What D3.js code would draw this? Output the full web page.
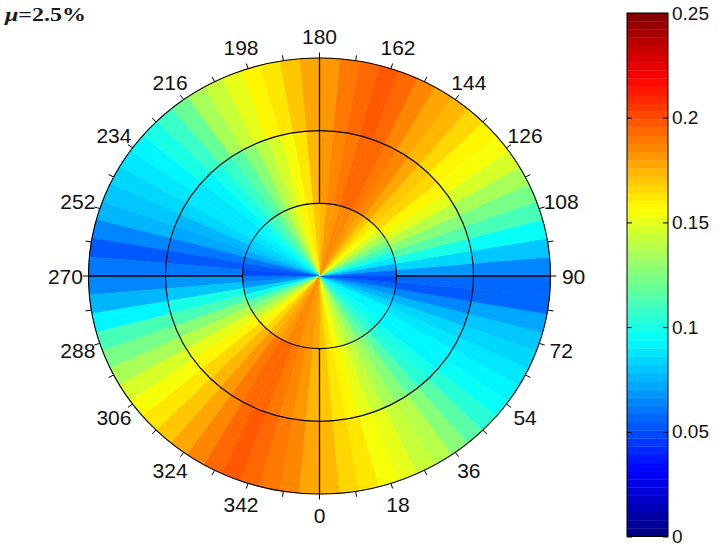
<!DOCTYPE html>
<html><head><meta charset="utf-8">
<script src="https://cdn.jsdelivr.net/npm/d3@7"></script>
<style>body{margin:0;background:#fff} svg{display:block}</style>
</head><body>
<svg id="c" width="720" height="551"></svg>
<script>
// ---------------- data ----------------
const titleSymbol = "\u03BC";
const titleRest = "=2.5%";
const binWidth = 5; // degrees per angular cell
const angleStarts = [0,5,10,15,20,25,30,35,40,45,50,55,60,65,70,75,80,85,90,95,
  100,105,110,115,120,125,130,135,140,145,150,155,160,165,170,175,180,185,190,195,
  200,205,210,215,220,225,230,235,240,245,250,255,260,265,270,275,280,285,290,295,
  300,305,310,315,320,325,330,335,340,345,350,355];
const ringEdges = [0, 1/3, 2/3, 1];
const innerRing = [
  0.170,0.162,0.155,0.148,0.140,0.130,0.120,0.112,0.105,0.098,
  0.095,0.092,0.090,0.085,0.078,0.068,0.055,0.050,0.058,0.072,
  0.088,0.100,0.112,0.124,0.135,0.148,0.156,0.162,0.170,0.176,
  0.182,0.185,0.185,0.183,0.180,0.175,0.170,0.163,0.157,0.150,
  0.142,0.130,0.120,0.110,0.102,0.096,0.092,0.088,0.085,0.080,
  0.072,0.062,0.052,0.050,0.060,0.070,0.085,0.100,0.115,0.128,
  0.140,0.150,0.158,0.165,0.172,0.178,0.182,0.185,0.185,0.182,
  0.180,0.176];
const middleRing = [
  0.168,0.163,0.157,0.151,0.143,0.135,0.126,0.115,0.105,0.098,
  0.093,0.090,0.087,0.083,0.077,0.066,0.054,0.058,0.068,0.083,
  0.100,0.115,0.128,0.140,0.150,0.158,0.165,0.171,0.177,0.184,
  0.190,0.195,0.195,0.191,0.186,0.180,0.172,0.163,0.155,0.147,
  0.138,0.127,0.117,0.106,0.098,0.093,0.089,0.086,0.083,0.078,
  0.072,0.062,0.052,0.059,0.068,0.082,0.098,0.113,0.127,0.140,
  0.151,0.160,0.167,0.174,0.182,0.189,0.194,0.194,0.190,0.186,
  0.181,0.174];
const outerRing = [
  0.172,0.167,0.161,0.156,0.150,0.143,0.137,0.128,0.117,0.105,
  0.097,0.092,0.088,0.085,0.080,0.071,0.055,0.057,0.066,0.080,
  0.095,0.110,0.122,0.133,0.145,0.153,0.160,0.166,0.172,0.179,
  0.186,0.192,0.196,0.194,0.188,0.182,0.176,0.170,0.163,0.157,
  0.150,0.142,0.133,0.120,0.108,0.098,0.092,0.088,0.085,0.080,
  0.075,0.066,0.053,0.060,0.066,0.078,0.092,0.110,0.122,0.135,
  0.147,0.156,0.163,0.170,0.178,0.186,0.193,0.196,0.193,0.188,
  0.184,0.179];
const thetaTickLabels = [0,18,36,54,72,90,108,126,144,162,180,198,216,234,252,270,288,306,324,342];
const thetaTickMarks = [0,9,18,27,36,45,54,63,72,81,90,99,108,117,126,135,144,153,162,171,
  180,189,198,207,216,225,234,243,252,261,270,279,288,297,306,315,324,333,342,351];
const spokeAngles = [0,90,180,270];
const gridRings = [1/3, 2/3, 1];
const colorbarTicks = [0,0.05,0.1,0.15,0.2,0.25];
const colorDomain = [0, 0.25];

// ---------------- layout ----------------
const svg = d3.select("#c");
const CX = 319.5, CY = 276, RX = 231, RY = 218;
const sy = RY / RX;

function jet(t){
  const c = x => Math.max(0, Math.min(1, x));
  const r = c(1.5 - Math.abs(4*t - 3)), g = c(1.5 - Math.abs(4*t - 2)), b = c(1.5 - Math.abs(4*t - 1));
  return d3.rgb(r*255, g*255, b*255).formatHex();
}
const nLevels = 64;
const palette = d3.range(nLevels).map(i => jet((i + 0.5) / nLevels));
const color = d3.scaleQuantize().domain(colorDomain).range(palette);

const ang = d3.scaleLinear().domain([0, 360]).range([Math.PI, -Math.PI]);
const rad = d3.scaleLinear().domain([0, 1]).range([0, RX]);

const rings = [innerRing, middleRing, outerRing];
const cells = [];
rings.forEach((vals, ri) => {
  angleStarts.forEach((a, ai) => {
    cells.push({a0: a, a1: a + binWidth, r0: ringEdges[ri], r1: ringEdges[ri+1], v: vals[ai]});
  });
});

const arc = d3.arc()
  .innerRadius(d => rad(d.r0))
  .outerRadius(d => rad(d.r1))
  .startAngle(d => ang(d.a1))
  .endAngle(d => ang(d.a0));

const g = svg.append("g").attr("transform", `translate(${CX},${CY}) scale(1,${sy})`);
g.selectAll("path.cell").data(cells).enter().append("path")
  .attr("class", "cell")
  .attr("d", arc)
  .attr("fill", d => color(d.v))
  .attr("stroke", d => color(d.v))
  .attr("stroke-width", 0.6)
  .attr("vector-effect", "non-scaling-stroke");

// grid circles
g.selectAll("circle.grid").data(gridRings).enter().append("circle")
  .attr("r", d => rad(d)).attr("fill", "none")
  .attr("stroke", "#000").attr("stroke-width", 1.1)
  .attr("vector-effect", "non-scaling-stroke");

// spokes from inner ring to outer ring
const pt = (theta, r) => [rad(r) * Math.sin(theta * Math.PI / 180), rad(r) * Math.cos(theta * Math.PI / 180)];
g.selectAll("line.spoke").data(spokeAngles).enter().append("line")
  .attr("x1", d => pt(d, gridRings[0])[0]).attr("y1", d => pt(d, gridRings[0])[1])
  .attr("x2", d => pt(d, 1)[0]).attr("y2", d => pt(d, 1)[1])
  .attr("stroke", "#000").attr("stroke-width", 1.3)
  .attr("vector-effect", "non-scaling-stroke");

// tick marks on outer circle
g.selectAll("line.tick").data(thetaTickMarks).enter().append("line")
  .attr("x1", d => pt(d, 1)[0]).attr("y1", d => pt(d, 1)[1])
  .attr("x2", d => pt(d, 1.025)[0]).attr("y2", d => pt(d, 1.025)[1])
  .attr("stroke", "#000").attr("stroke-width", 1)
  .attr("vector-effect", "non-scaling-stroke");

// angle labels
svg.append("g").selectAll("text").data(thetaTickLabels).enter().append("text")
  .attr("x", d => CX + rad(1.1) * Math.sin(d * Math.PI / 180))
  .attr("y", d => CY + rad(1.1) * sy * Math.cos(d * Math.PI / 180))
  .attr("dy", "0.36em")
  .attr("text-anchor", "middle")
  .attr("font-family", "'Liberation Sans', Arial, sans-serif")
  .attr("font-size", 21)
  .attr("fill", "#111")
  .text(d => d);

// title
const t = svg.append("text").attr("x", 5).attr("y", 21)
  .attr("font-family", "'Liberation Serif', 'Times New Roman', serif")
  .attr("font-weight", "bold").attr("font-size", 18).attr("fill", "#1a1a1a")
  .attr("textLength", 81).attr("lengthAdjust", "spacingAndGlyphs");
t.append("tspan").attr("font-style", "italic").text(titleSymbol);
t.append("tspan").text(titleRest);

// colorbar
const CBX0 = 627, CBX1 = 668, CBT = 13, CBB = 536.5;
const cb = d3.scaleLinear().domain(colorDomain).range([CBB, CBT]);
const levelEdges = d3.range(nLevels + 1).map(i => colorDomain[0] + (colorDomain[1] - colorDomain[0]) * i / nLevels);
svg.append("g").selectAll("rect").data(d3.range(nLevels)).enter().append("rect")
  .attr("x", CBX0).attr("width", CBX1 - CBX0)
  .attr("y", i => cb(levelEdges[i + 1]))
  .attr("height", i => cb(levelEdges[i]) - cb(levelEdges[i + 1]) + 0.3)
  .attr("fill", i => palette[i]);
svg.append("rect").attr("x", CBX0).attr("y", CBT).attr("width", CBX1 - CBX0).attr("height", CBB - CBT)
  .attr("fill", "none").attr("stroke", "#000").attr("stroke-width", 1);

const axR = svg.append("g").attr("transform", `translate(${CBX1},0)`)
  .call(d3.axisRight(cb).tickValues(colorbarTicks).tickSize(-5).tickPadding(4)
    .tickFormat(d => String(+d.toFixed(2))));
axR.select(".domain").remove();
axR.selectAll("text").attr("font-family", "'Liberation Sans', Arial, sans-serif").attr("font-size", 19).attr("fill", "#111");
axR.selectAll("line").attr("stroke", "#000");
const axL = svg.append("g").attr("transform", `translate(${CBX0},0)`)
  .call(d3.axisLeft(cb).tickValues(colorbarTicks).tickSize(-5).tickFormat(""));
axL.select(".domain").remove();
axL.selectAll("line").attr("stroke", "#000");
</script>
</body></html>
